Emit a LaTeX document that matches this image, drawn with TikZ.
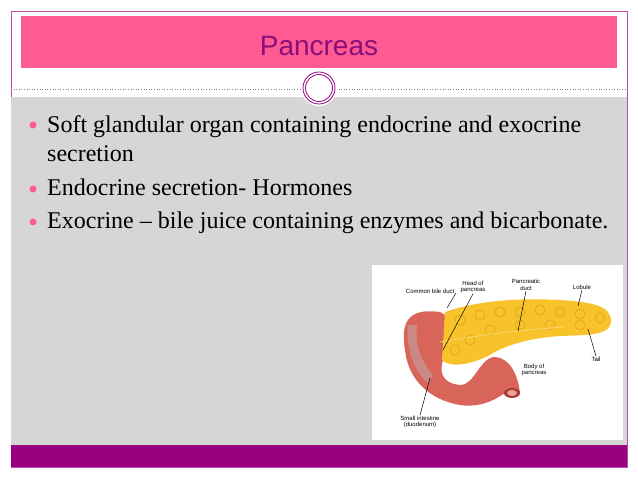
\documentclass[tikz,border=0pt]{standalone}
\usepackage{fontspec}
\setmainfont{Liberation Serif}
\newfontfamily\titlefont{Liberation Sans}
\definecolor{pinkbar}{HTML}{FF5A93}
\definecolor{purp}{HTML}{990080}
\definecolor{titlec}{HTML}{8A1079}
\definecolor{greyb}{HTML}{D6D6D6}
\definecolor{gut}{HTML}{D8645A}
\definecolor{gutd}{HTML}{A83A34}
\definecolor{panc}{HTML}{F7C22A}
\definecolor{pancd}{HTML}{D89A10}
\tikzset{
 bul/.style={anchor=base west,font=\fontsize{24}{28}\selectfont,inner sep=0},
 lab/.style={font=\titlefont\fontsize{6}{6.5}\selectfont,align=center,inner sep=0.5},
 ptr/.style={draw=black,line width=0.5}
}
\begin{document}
\begin{tikzpicture}[x=1pt,y=-1pt]
\useasboundingbox (0,0) rectangle (638,478);
\fill[white] (0,0) rectangle (638,478);
\draw[purp!70,line width=0.6] (11,11) rectangle (627,467);
\fill[pinkbar] (21,16) rectangle (617,68);
\node[font=\titlefont\fontsize{28}{32}\selectfont,text=titlec] (title) at (319,46) {Pancreas};
\fill[greyb] (11,97) rectangle (627,445);
\fill[purp] (11,445) rectangle (627,467);
\draw[gray,dotted,line width=0.6] (11,89) -- (627,89);
\fill[white] (319,88) circle (18);
\draw[purp,line width=0.8] (319,88) circle (16);
\draw[purp,line width=0.8] (319,88) circle (13.5);
% bullets
\foreach \y in {125,189,222}{\fill[pinkbar] (33,\y) circle (3.5);}
\node[bul] (b1) at (47,133) {Soft glandular organ containing endocrine and exocrine};
\node[bul] (b1b) at (47,162) {secretion};
\node[bul] (b2) at (47,196) {Endocrine secretion- Hormones};
\node[bul] (b3) at (47,229) {Exocrine -- bile juice containing enzymes and bicarbonate.};
% figure
\fill[white] (372,265) rectangle (623,440);
% duodenum
\fill[gut] (440,312) .. controls (410,308) and (400,320) .. (405,350)
 .. controls (408,380) and (430,400) .. (460,405)
 .. controls (480,408) and (495,400) .. (505,393)
 -- (520,393) .. controls (518,375) and (510,358) .. (495,357)
 .. controls (480,357) and (475,385) .. (460,385)
 .. controls (440,383) and (440,370) .. (443,360) -- (445,315) -- cycle;
\fill[gutd!60] (408,325) .. controls (406,345) and (412,370) .. (428,383) -- (433,375) .. controls (420,360) and (415,345) .. (417,325) -- cycle;
\fill[gutd] (512,393) ellipse (8 and 5);
\fill[gut!60] (512,393) ellipse (5 and 3);
% pancreas
\fill[panc] (445,312) .. controls (480,300) and (520,298) .. (560,300)
 .. controls (590,302) and (612,305) .. (611,322)
 .. controls (610,335) and (590,335) .. (560,336)
 .. controls (530,338) and (505,345) .. (490,355)
 .. controls (470,365) and (450,368) .. (442,360) -- cycle;
\foreach \x/\y in {460/320,480/315,500/312,520/312,540/310,560/312,580/314,600/318,470/340,490/330,520/325,550/325,580/325,455/350}
 {\draw[pancd,line width=0.4] (\x,\y) circle (5);}
\draw[panc!60!white,line width=0.7] (440,342) .. controls (480,335) and (520,330) .. (565,327);
% labels
\node[lab,anchor=east] (cbd) at (455,291) {Common bile duct};
\node[lab] (head) at (473,287) {Head of\\pancreas};
\node[lab] (pd) at (526,285) {Pancreatic\\duct};
\node[lab] (lob) at (582,287) {Lobule};
\node[lab] (tail) at (596,359) {Tail};
\node[lab] (body) at (534,370) {Body of\\pancreas};
\node[lab] (si) at (420,422) {Small intestine\\(duodenum)};
\coordinate (c1) at (447,308); \coordinate (c2) at (443,350);
\coordinate (c3) at (518,331); \coordinate (c4) at (578,306);
\coordinate (c5) at (588,329); \coordinate (c6) at (430,378);
\draw[ptr] (cbd.east) ++(1,2) -- (c1);
\draw[ptr] (head.south) -- (c2);
\draw[ptr] (pd.south) -- (c3);
\draw[ptr] (lob.south) -- (c4);
\draw[ptr] (tail.north) -- (c5);
\draw[ptr] (si.north) -- (c6);
\end{tikzpicture}
\end{document}
